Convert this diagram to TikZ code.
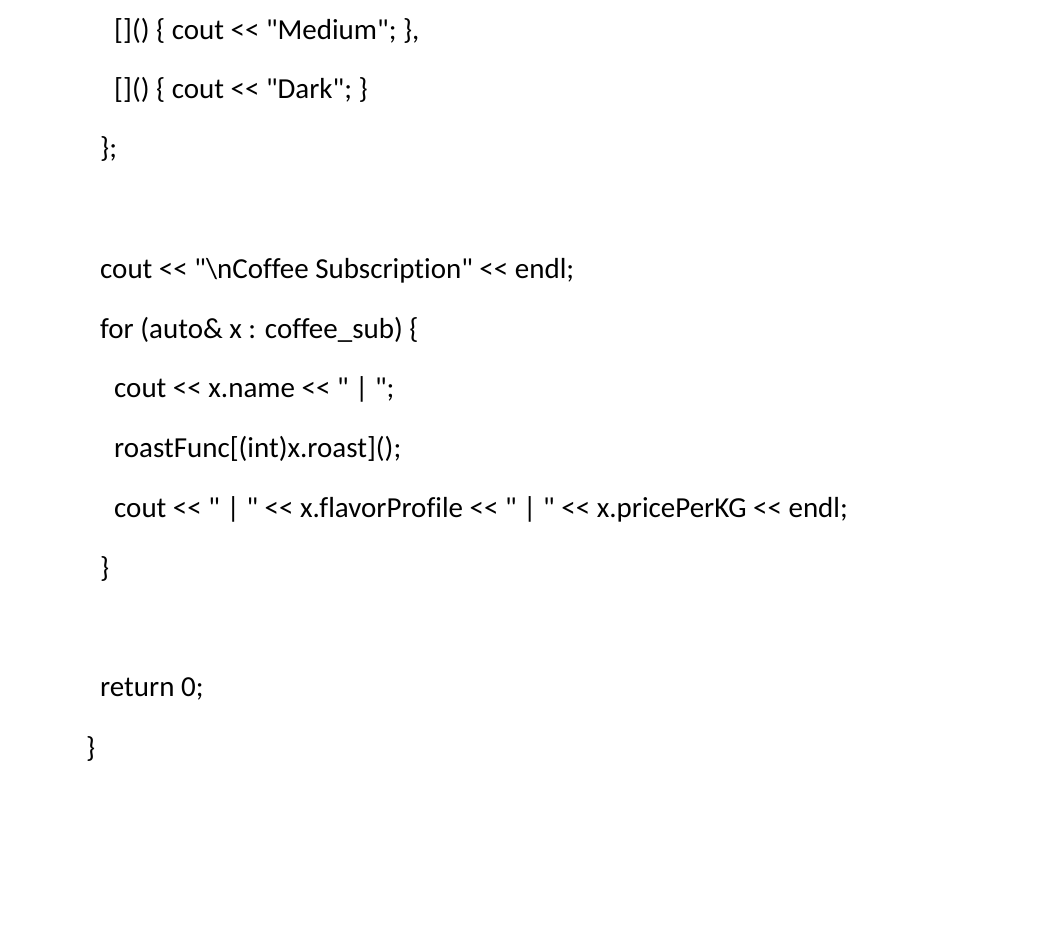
\documentclass[tikz,border=0pt]{standalone}
\usepackage{fontspec}
\setmainfont{Carlito}[Ligatures={TeXOff,CommonOff}]
\begin{document}
\begin{tikzpicture}[x=1pt,y=-1pt,code/.style={anchor=base west,inner sep=0pt,font=\fontsize{29}{34}\selectfont}]
\useasboundingbox[fill=white] (0,0) rectangle (1046,938);
\node[code] (l1) at (114,39) {[]() \{ cout << "Medium"; \},};
\node[code] (l2) at (114,98) {[]() \{ cout << "Dark"; \}};
\node[code] (l3) at (100,157) {\};};
\node[code] (l4) at (100,278) {cout << "\textbackslash nCoffee Subscription" << endl;};
\node[code] (l5) at (100,338) {for (auto\& x : coffee\_sub) \{};
\node[code] (l6) at (114,397) {cout << x.name << " | ";};
\node[code] (l7) at (114,457) {roastFunc[(int)x.roast]();};
\node[code] (l8) at (114,517) {cout << " | " << x.flavorProfile << " | " << x.pricePerKG << endl;};
\node[code] (l9) at (100,577) {\}};
\node[code] (l10) at (100,696) {return 0;};
\node[code] (l11) at (86,757) {\}};
\end{tikzpicture}
\end{document}
